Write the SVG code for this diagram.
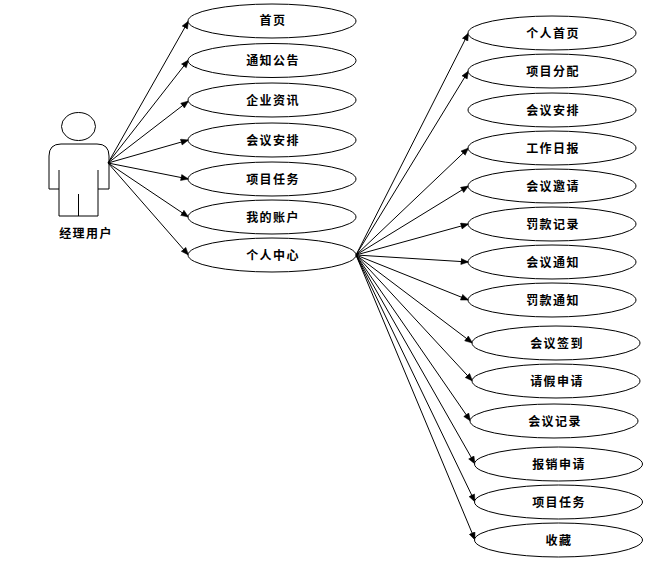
<svg xmlns="http://www.w3.org/2000/svg" width="646" height="562" viewBox="0 0 646 562">
<style>
.n{fill:#fff;stroke:#000;stroke-width:1}
.c{fill:none;stroke:#000;stroke-width:1;marker-end:url(#a)}
.a{fill:none;stroke:#000;stroke-width:1}
.h{fill:#000;stroke:#000;stroke-width:0.500}
text{font-family:"Noto Sans CJK SC","Liberation Sans",sans-serif;font-size:12px;font-weight:700;letter-spacing:1.4px;text-anchor:middle;fill:#000}
</style>
<defs><marker id="a" markerUnits="userSpaceOnUse" markerWidth="10" markerHeight="8" refX="8" refY="3.500" orient="auto"><path class="h" d="M0.500 0.500L8 3.500L0.500 6.500Z"/></marker></defs>
<rect width="646" height="562" fill="#fff"/>
<g id="connectors">
<path class="c" d="M108 163L188.500 21"/><path class="c" d="M108 163L188.500 60"/><path class="c" d="M108 163L188.500 101"/><path class="c" d="M108 163L188.500 140"/><path class="c" d="M108 163L188.500 179"/><path class="c" d="M108 163L188.500 217"/><path class="c" d="M108 163L188.500 255"/>
<path class="c" d="M356 255L468.500 33"/><path class="c" d="M356 255L468.500 71"/><path class="c" d="M356 255L468.500 148"/><path class="c" d="M356 255L468.500 186"/><path class="c" d="M356 255L468.500 224"/><path class="c" d="M356 255L468.500 262"/><path class="c" d="M356 255L468.500 300"/><path class="c" d="M356 255L472.500 343"/><path class="c" d="M356 255L472.500 381"/><path class="c" d="M356 255L470.500 421"/><path class="c" d="M356 255L475 464"/><path class="c" d="M356 255L475 502"/><path class="c" d="M356 255L475 540"/>
</g>
<g id="actor">
<ellipse class="a" cx="78.500" cy="126.500" rx="17" ry="14"/>
<path class="a" d="M59 189H49V156Q49 144 61 144H97Q109 144 109 156V189H98M59 170V216H98V170M78.500 194V216"/>
<text x="86" y="238">经理用户</text>
</g>
<g id="l1"><ellipse class="n" cx="272" cy="21" rx="84" ry="17"/><text x="273" y="25">首页</text></g>
<g id="l2"><ellipse class="n" cx="272" cy="60.500" rx="84" ry="17"/><text x="273" y="64.500">通知公告</text></g>
<g id="l3"><ellipse class="n" cx="272" cy="100" rx="84" ry="17"/><text x="273" y="104.500">企业资讯</text></g>
<g id="l4"><ellipse class="n" cx="272" cy="140" rx="84" ry="17"/><text x="273" y="144.500">会议安排</text></g>
<g id="l5"><ellipse class="n" cx="272" cy="179" rx="84" ry="17"/><text x="273" y="183.500">项目任务</text></g>
<g id="l6"><ellipse class="n" cx="272" cy="217" rx="84" ry="17"/><text x="273" y="221.500">我的账户</text></g>
<g id="l7"><ellipse class="n" cx="272" cy="255" rx="84" ry="17"/><text x="273" y="259.500">个人中心</text></g>
<g id="r1"><ellipse class="n" cx="552" cy="33" rx="84" ry="17"/><text x="553" y="37.500">个人首页</text></g>
<g id="r2"><ellipse class="n" cx="552" cy="71" rx="84" ry="17"/><text x="553" y="75.500">项目分配</text></g>
<g id="r3"><ellipse class="n" cx="552" cy="110" rx="84" ry="17"/><text x="553" y="114.500">会议安排</text></g>
<g id="r4"><ellipse class="n" cx="552" cy="148" rx="84" ry="17"/><text x="553" y="152.500">工作日报</text></g>
<g id="r5"><ellipse class="n" cx="552" cy="186" rx="84" ry="17"/><text x="553" y="190.500">会议邀请</text></g>
<g id="r6"><ellipse class="n" cx="552" cy="224" rx="84" ry="17"/><text x="553" y="228.500">罚款记录</text></g>
<g id="r7"><ellipse class="n" cx="552" cy="262" rx="84" ry="17"/><text x="553" y="266.500">会议通知</text></g>
<g id="r8"><ellipse class="n" cx="552" cy="300" rx="84" ry="17"/><text x="553" y="304.500">罚款通知</text></g>
<g id="r9"><ellipse class="n" cx="556" cy="343" rx="84" ry="17"/><text x="557" y="347.500">会议签到</text></g>
<g id="r10"><ellipse class="n" cx="556" cy="381" rx="84" ry="17"/><text x="557" y="385.500">请假申请</text></g>
<g id="r11"><ellipse class="n" cx="554" cy="421" rx="84" ry="17"/><text x="555" y="425.500">会议记录</text></g>
<g id="r12"><ellipse class="n" cx="558.500" cy="464" rx="84" ry="17"/><text x="559" y="468.500">报销申请</text></g>
<g id="r13"><ellipse class="n" cx="558.500" cy="502" rx="84" ry="17"/><text x="559" y="506.500">项目任务</text></g>
<g id="r14"><ellipse class="n" cx="558.500" cy="540" rx="84" ry="17"/><text x="559" y="544.500">收藏</text></g>
</svg>
